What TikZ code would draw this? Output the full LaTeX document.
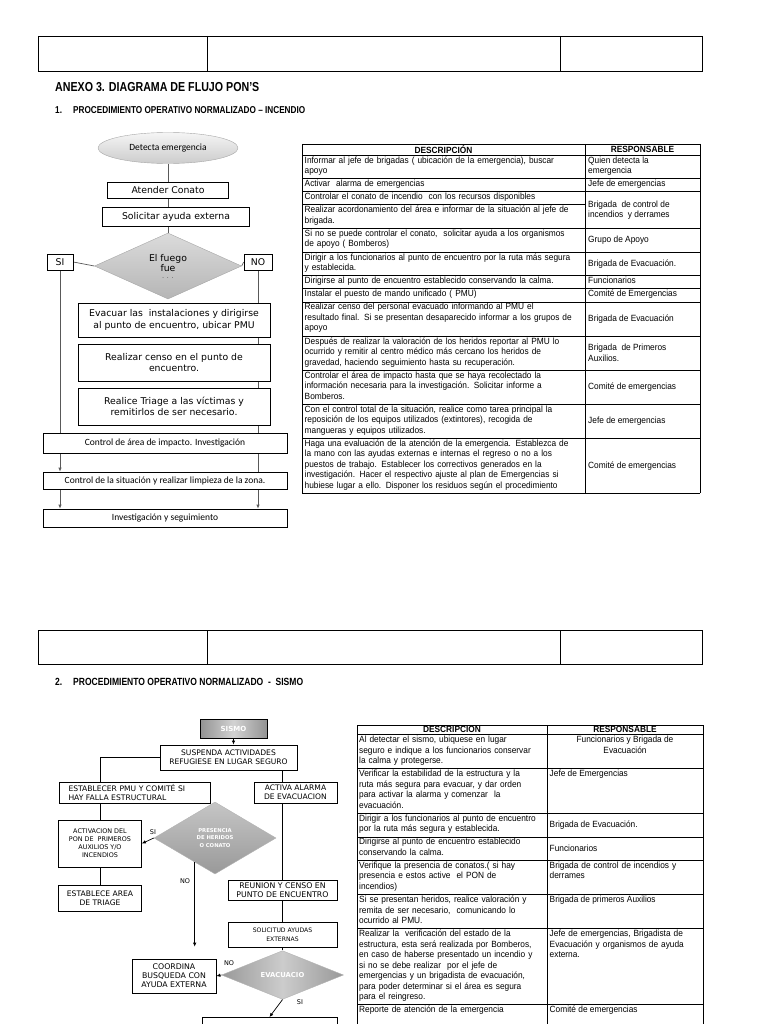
\documentclass[tikz,border=0pt]{standalone}
\usepackage{fontspec}
\setmainfont{Liberation Sans}
\newfontfamily\narrowfont[FakeStretch=0.82]{Liberation Sans}
\newfontfamily\tabfont[FakeStretch=0.925]{Liberation Sans}
\newfontfamily\verdanafont{DejaVu Sans}
\newfontfamily\calibrifont{Carlito}
\usetikzlibrary{positioning}
\usetikzlibrary{shapes.geometric}
\usetikzlibrary{arrows.meta}
\usetikzlibrary{backgrounds}

\newcommand{\jl}[1]{\makebox[\linewidth][s]{#1}\par}

\begin{document}
\begin{tikzpicture}[x=1pt, y=-1pt,
		h/.style	= {draw=black, line width=0.8pt},
		tl/.style	= {draw=black, line width=0.6pt},
		tt/.style	= {anchor=base west, inner sep=0pt},
		e/.style	= {ellipse, draw=gray!70, top color=gray!8, bottom color=gray!40, inner sep=0pt, font=\calibrifont\fontsize{9.5}{11}\selectfont},
		b/.style	= {rectangle, draw=black, fill=white, line width=0.7pt, inner sep=1pt, align=center, font=\verdanafont\fontsize{9.3}{11.5}\selectfont},
		bc/.style	= {b, font=\calibrifont\fontsize{9.5}{11}\selectfont},
		d/.style	= {diamond, draw=gray!70, top color=gray!28, bottom color=gray!58, inner sep=0pt, align=center, font=\verdanafont\fontsize{9.3}{10}\selectfont},
		s/.style	= {rectangle, draw=black, fill=white, line width=0.7pt, inner sep=1pt, align=center, font=\verdanafont\fontsize{7.6}{8.6}\selectfont},
		g/.style	= {rectangle, draw=black, line width=0.7pt, left color=gray!85, right color=gray!85, middle color=gray!35, text=white, font=\verdanafont\bfseries\fontsize{7}{8}\selectfont},
		gd/.style	= {diamond, draw=gray!60, inner sep=0pt, align=center, text=white, font=\verdanafont\bfseries\fontsize{5.3}{7.6}\selectfont},
		l/.style	= {draw=gray!70!black, line width=0.7pt},
		lb/.style	= {draw=black, line width=0.7pt},
		r/.style	= {-{Latex[length=4pt, width=3.5pt]}, line width=0.7pt},
		lab/.style	= {inner sep=0pt, font=\verdanafont\fontsize{6.5}{7}\selectfont},
		dc/.style	= {anchor=north west, inner sep=0pt, font=\tabfont\fontsize{9}{10.5}\selectfont},
		rc/.style	= {inner sep=0pt, align=left, font=\tabfont\fontsize{9}{10.5}\selectfont},
		th/.style	= {inner sep=0pt, font=\tabfont\bfseries\fontsize{9}{10.5}\selectfont}
		]
		\useasboundingbox (0, 0) rectangle (768, 1024);
		\clip (0, 0) rectangle (768, 1024);
		
		%Headers
		\draw[h]	(38, 36)	rectangle	(702, 71);
		\draw[h]	(207, 36)	--	(207, 71);
		\draw[h]	(560, 36)	--	(560, 71);
		\draw[h]	(38, 630)	rectangle	(702, 664);
		\draw[h]	(207, 630)	--	(207, 664);
		\draw[h]	(560, 630)	--	(560, 664);
		
		%Titles
		\node[tt, font=\narrowfont\bfseries\fontsize{13}{15}\selectfont]	(anexo)	at	(55, 91.5)	{ANEXO 3. DIAGRAMA DE FLUJO PON’S};
		\node[tt, font=\narrowfont\bfseries\fontsize{10}{11}\selectfont]	(num1)	at	(55, 114)	{1.};
		\node[tt, font=\narrowfont\bfseries\fontsize{10}{11}\selectfont]	(tit1)	at	(73, 114)	{PROCEDIMIENTO OPERATIVO NORMALIZADO – INCENDIO};
		\node[tt, font=\narrowfont\bfseries\fontsize{10.4}{11}\selectfont]	(num2)	at	(55, 685)	{2.};
		\node[tt, font=\narrowfont\bfseries\fontsize{10.4}{11}\selectfont]	(tit2)	at	(73, 685)	{PROCEDIMIENTO OPERATIVO NORMALIZADO\ \ -\ \ SISMO};
		
		%Nodes incendio
		\node[e, minimum width=140, minimum height=31]	(detecta)	at	(168, 148)	{Detecta emergencia};
		\node[b, minimum width=121, minimum height=16]	(atender)	at	(168, 190)	{Atender Conato};
		\node[b, minimum width=147, minimum height=19]	(solicitar)	at	(176, 216.5)	{Solicitar ayuda externa};
		\node[d, minimum width=147, minimum height=66]	(fuego)	at	(168, 266)	{El fuego\\fue\\[-3pt]{\fontsize{5}{5}\selectfont .\ \ .\ \ .}};
		\node[b, minimum width=26, minimum height=16]	(si)	at	(60, 262)	{SI};
		\node[b, minimum width=28, minimum height=16]	(no)	at	(258, 262)	{NO};
		\node[b, minimum width=192, minimum height=34]	(evacuar)	at	(174, 320)	{Evacuar las\ \ instalaciones y dirigirse\\al punto de encuentro, ubicar PMU};
		\node[b, minimum width=192, minimum height=37]	(censo)	at	(174, 362.5)	{Realizar censo en el punto de\\encuentro.};
		\node[b, minimum width=192, minimum height=37]	(triage)	at	(174, 406.5)	{Realice Triage a las víctimas y\\remitirlos de ser necesario.};
		\node[bc, minimum width=244, minimum height=20]	(area)	at	(165, 443)	{Control de área de impacto. Investigación};
		\node[bc, minimum width=244, minimum height=17]	(situacion)	at	(165, 480.5)	{Control de la situación y realizar limpieza de la zona.};
		\node[bc, minimum width=244, minimum height=18]	(seguimiento)	at	(165, 518)	{Investigación y seguimiento};
		
		%Lines incendio
		\begin{scope}[on background layer]
		\draw[l]	(detecta.south)	--	(atender.north);
		\draw[l]	(atender.south)	--	(atender.south |- solicitar.north);
		\draw[l]	(solicitar.south -| fuego.north)	--	(fuego.north);
		\draw[l]	(si.east)	--	(fuego.west);
		\draw[l]	(no.west)	--	(fuego.east);
		\draw[l, r]	(si.south)	--	(si.south |- situacion.north);
		\draw[l, r]	(si.south |- situacion.south)	--	(si.south |- seguimiento.north);
		\draw[l, r]	(no.south)	--	(no.south |- seguimiento.north);
		\end{scope}
		
		%Table incendio
		\foreach \y in {144, 155, 178.6, 191.7, 228.4, 252, 275.6, 288.7, 301.8, 335.9, 370, 404.1, 438.2, 493.3}
			\draw[tl]	(302, \y)	--	(700, \y);
		\draw[tl]	(302, 204.8)	--	(585, 204.8);
		\foreach \x in {302, 585, 700}
			\draw[tl]	(\x, 144)	--	(\x, 493.3);
		
		\node[th]	(hd1)	at	(443.5, 149.5)	{DESCRIPCIÓN};
		\node[th]	(hr1)	at	(642.5, 149.5)	{RESPONSABLE};
		
		\node[dc, text width=278.5]	(d1)	at	(304.5, 156.3)	{\jl{Informar al jefe de brigadas ( ubicación de la emergencia), buscar}apoyo};
		\node[dc, text width=278.5]	(d2)	at	(304.5, 179.9)	{Activar\ \ alarma de emergencias};
		\node[dc, text width=278.5]	(d3)	at	(304.5, 193)	{Controlar el conato de incendio\ \ con los recursos disponibles};
		\node[dc, text width=278.5]	(d4)	at	(304.5, 206.1)	{\jl{Realizar acordonamiento del área e informar de la situación al jefe de}brigada.};
		\node[dc, text width=278.5]	(d5)	at	(304.5, 229.7)	{\jl{Si no se puede controlar el conato,\ \ solicitar ayuda a los organismos}de apoyo ( Bomberos)};
		\node[dc, text width=278.5]	(d6)	at	(304.5, 253.3)	{\jl{Dirigir a los funcionarios al punto de encuentro por la ruta más segura}y establecida.};
		\node[dc, text width=278.5]	(d7)	at	(304.5, 276.9)	{Dirigirse al punto de encuentro establecido conservando la calma.};
		\node[dc, text width=278.5]	(d8)	at	(304.5, 290)	{Instalar el puesto de mando unificado ( PMU)};
		\node[dc, text width=278.5]	(d9)	at	(304.5, 303.1)	{\jl{Realizar censo del personal evacuado informando al PMU el}\jl{resultado final. Si se presentan desaparecido informar a los grupos de}apoyo};
		\node[dc, text width=278.5]	(d10)	at	(304.5, 337.2)	{\jl{Después de realizar la valoración de los heridos reportar al PMU lo}\jl{ocurrido y remitir al centro médico más cercano los heridos de}gravedad, haciendo seguimiento hasta su recuperación.};
		\node[dc, text width=278.5]	(d11)	at	(304.5, 371.3)	{\jl{Controlar el área de impacto hasta que se haya recolectado la}\jl{información necesaria para la investigación. Solicitar informe a}Bomberos.};
		\node[dc, text width=278.5]	(d12)	at	(304.5, 405.4)	{\jl{Con el control total de la situación, realice como tarea principal la}\jl{reposición de los equipos utilizados (extintores), recogida de}mangueras y equipos utilizados.};
		\node[dc, text width=278.5]	(d13)	at	(304.5, 439.5)	{\jl{Haga una evaluación de la atención de la emergencia. Establezca de}\jl{la mano con las ayudas externas e internas el regreso o no a los}\jl{puestos de trabajo. Establecer los correctivos generados en la}\jl{investigación. Hacer el respectivo ajuste al plan de Emergencias si}hubiese lugar a ello. Disponer los residuos según el procedimiento};
		
		\node[rc, anchor=north west]	(r1)	at	(588, 156.3)	{Quien detecta la\\emergencia};
		\node[rc, anchor=north west]	(r2)	at	(588, 179.9)	{Jefe de emergencias};
		\node[rc, anchor=west]	(r3)	at	(588, 210)	{Brigada\ \ de control de\\incendios\ \ y derrames};
		\node[rc, anchor=west]	(r4)	at	(588, 240.2)	{Grupo de Apoyo};
		\node[rc, anchor=west]	(r5)	at	(588, 263.8)	{Brigada de Evacuación.};
		\node[rc, anchor=north west]	(r6)	at	(588, 276.9)	{Funcionarios};
		\node[rc, anchor=north west]	(r7)	at	(588, 290)	{Comité de Emergencias};
		\node[rc, anchor=west]	(r8)	at	(588, 318.9)	{Brigada de Evacuación};
		\node[rc, anchor=west]	(r9)	at	(588, 353)	{Brigada\ \ de Primeros\\Auxilios.};
		\node[rc, anchor=west]	(r10)	at	(588, 387.1)	{Comité de emergencias};
		\node[rc, anchor=west]	(r11)	at	(588, 421.2)	{Jefe de emergencias};
		\node[rc, anchor=west]	(r12)	at	(588, 465.8)	{Comité de emergencias};
		
		%Nodes sismo
		\node[g, minimum width=67, minimum height=19]	(sismo)	at	(233.5, 728.5)	{SISMO};
		\node[s, minimum width=137, minimum height=25]	(suspenda)	at	(228.5, 757.5)	{SUSPENDA ACTIVIDADES\\REFUGIESE EN LUGAR SEGURO};
		\node[s, minimum width=151, minimum height=21, text width=132, align=left]	(establecer)	at	(134.5, 792.5)	{\jl{ESTABLECER PMU Y COMITÉ SI}HAY FALLA ESTRUCTURAL};
		\node[s, minimum width=83, minimum height=21]	(activa)	at	(295.5, 792.5)	{ACTIVA ALARMA\\DE EVACUACION};
		\node[gd, minimum width=122, minimum height=72, top color=gray!45, bottom color=gray!80]	(presencia)	at	(215, 838)	{PRESENCIA\\DE HERIDOS\\O CONATO};
		\node[s, minimum width=83, minimum height=47, font=\verdanafont\fontsize{6.4}{8}\selectfont]	(activacion)	at	(100, 843.5)	{ACTIVACION DEL\\PON DE\ \ PRIMEROS\\AUXILIOS Y/O\\INCENDIOS};
		\node[s, minimum width=83, minimum height=26]	(triage2)	at	(100, 898)	{ESTABLECE AREA\\DE TRIAGE};
		\node[s, minimum width=109, minimum height=20, font=\verdanafont\fontsize{7.8}{8.6}\selectfont]	(reunion)	at	(282.5, 890)	{REUNION Y CENSO EN\\PUNTO DE ENCUENTRO};
		\node[s, minimum width=109, minimum height=25, font=\verdanafont\fontsize{6.1}{9}\selectfont]	(solicitud)	at	(282.5, 934.5)	{SOLICITUD AYUDAS\\EXTERNAS};
		\node[gd, minimum width=122, minimum height=31, left color=gray!80, right color=gray!80, middle color=gray!40, font=\verdanafont\bfseries\fontsize{6.8}{8}\selectfont]	(evacuacio)	at	(282.5, 975)	{EVACUACIO};
		\node[s, minimum width=84, minimum height=34, font=\verdanafont\fontsize{7.8}{9}\selectfont]	(coordina)	at	(174, 976)	{COORDINA\\BUSQUEDA CON\\AYUDA EXTERNA};
		\node[s, minimum width=135, minimum height=30, anchor=north]	(fin)	at	(269.5, 1017)	{};
		
		\node[lab]	(lsi1)	at	(153, 832)	{SI};
		\node[lab]	(lno1)	at	(185, 881)	{NO};
		\node[lab]	(lno2)	at	(229, 963)	{NO};
		\node[lab]	(lsi2)	at	(300, 1002)	{SI};
		
		%Lines sismo
		\draw[lb, r]	(sismo.south)	--	(sismo.south |- suspenda.north);
		\draw[lb]	(suspenda.west)	-|	(activacion.north |- establecer.north);
		\draw[lb]	(activacion.north |- establecer.south)	--	(activacion.north);
		\draw[lb]	(activacion.south)	--	(triage2.north);
		\draw[lb]	(reunion.north |- suspenda.south)	--	(reunion.north |- activa.north);
		\draw[lb]	(reunion.north |- activa.south)	--	(reunion.north);
		\draw[lb]	(reunion.south)	--	(solicitud.north);
		\draw[lb]	(solicitud.south)	--	(evacuacio.north);
		\draw[lb, r]	(presencia.west)	--	(activacion.east);
		\draw[lb, r, shorten >=12pt]	(presencia.230)	--	(presencia.230 |- coordina.north);
		\draw[lb, r]	(evacuacio.west)	--	(coordina.east);
		\draw[lb, r]	(evacuacio.south)	--	(fin.north);
		
		%Table sismo
		\foreach \y in {725, 734.5, 768.6, 813.2, 836.8, 860.4, 894.5, 928.6, 1004.7}
			\draw[tl]	(357, \y)	--	(703, \y);
		\foreach \x in {357, 547, 703}
			\draw[tl]	(\x, 725)	--	(\x, 1030);
		
		\node[th]	(hd2)	at	(452, 729.8)	{DESCRIPCION};
		\node[th]	(hr2)	at	(625, 729.8)	{RESPONSABLE};
		
		\node[dc, text width=186]	(e1)	at	(359, 735.8)	{\jl{Al detectar el sismo, ubiquese en lugar}\jl{seguro e indique a los funcionarios conservar}la calma y protegerse.};
		\node[dc, text width=186]	(e2)	at	(359, 769.9)	{\jl{Verificar la estabilidad de la estructura y la}\jl{ruta más segura para evacuar, y dar orden}\jl{para activar la alarma y comenzar\ \ la}evacuación.};
		\node[dc, text width=186]	(e3)	at	(359, 814.5)	{\jl{Dirigir a los funcionarios al punto de encuentro}por la ruta más segura y establecida.};
		\node[dc, text width=186]	(e4)	at	(359, 838.1)	{\jl{Dirigirse al punto de encuentro establecido}conservando la calma.};
		\node[dc, text width=186]	(e5)	at	(359, 861.7)	{\jl{Verifique la presencia de conatos.( si hay}\jl{presencia e estos active\ \ el PON de}incendios)};
		\node[dc, text width=186]	(e6)	at	(359, 895.8)	{\jl{Si se presentan heridos, realice valoración y}\jl{remita de ser necesario,\ \ comunicando lo}ocurrido al PMU.};
		\node[dc, text width=186]	(e7)	at	(359, 929.9)	{\jl{Realizar la\ \ verificación del estado de la}\jl{estructura, esta será realizada por Bomberos,}\jl{en caso de haberse presentado un incendio y}\jl{si no se debe realizar\ \ por el jefe de}\jl{emergencias y un brigadista de evacuación,}\jl{para poder determinar si el área es segura}para el reingreso.};
		\node[dc, text width=186]	(e8)	at	(359, 1006)	{\jl{Reporte de atención de la emergencia}};
		
		\node[rc, anchor=north, align=center]	(s1)	at	(625, 735.8)	{Funcionarios y Brigada de\\Evacuación};
		\node[rc, anchor=north west]	(s2)	at	(549.5, 769.9)	{Jefe de Emergencias};
		\node[rc, anchor=west]	(s3)	at	(549.5, 825)	{Brigada de Evacuación.};
		\node[rc, anchor=west]	(s4)	at	(549.5, 848.6)	{Funcionarios};
		\node[dc, text width=151]	(s5)	at	(549.5, 861.7)	{\jl{Brigada de control de incendios y}derrames};
		\node[rc, anchor=north west]	(s6)	at	(549.5, 895.8)	{Brigada de primeros Auxilios};
		\node[dc, text width=151]	(s7)	at	(549.5, 929.9)	{\jl{Jefe de emergencias, Brigadista de}\jl{Evacuación y organismos de ayuda}externa.};
		\node[rc, anchor=north west]	(s8)	at	(549.5, 1006)	{Comité de emergencias};
	\end{tikzpicture}
\end{document}
